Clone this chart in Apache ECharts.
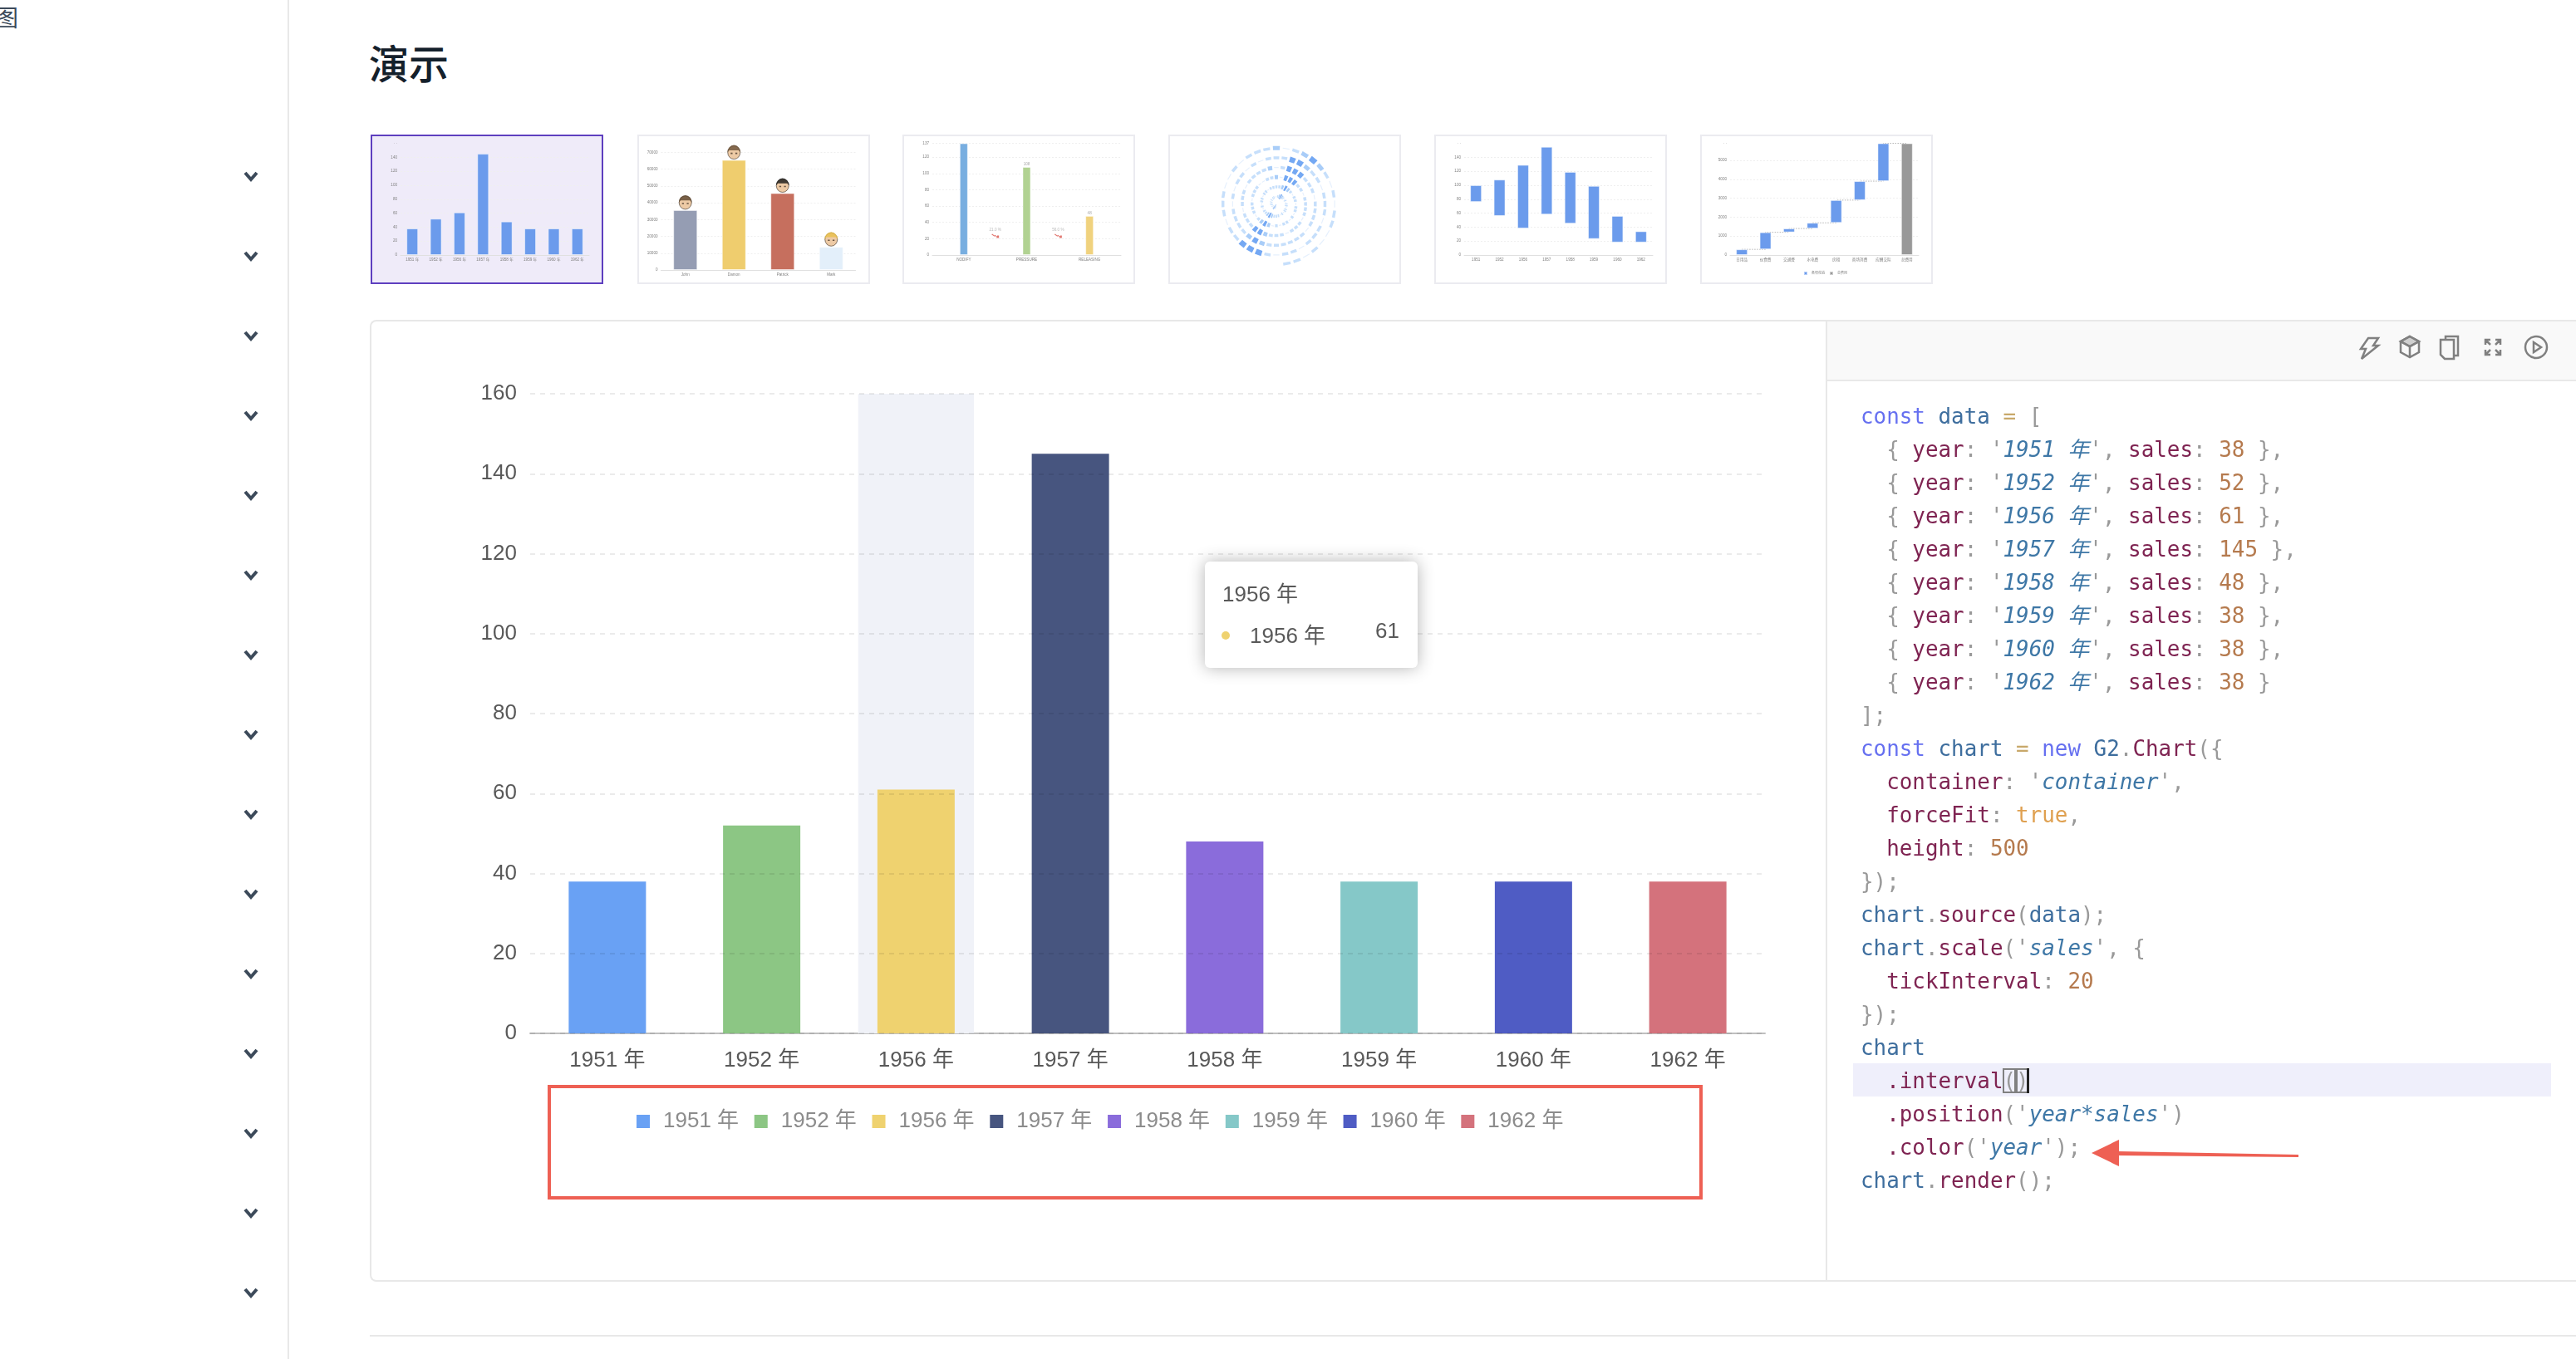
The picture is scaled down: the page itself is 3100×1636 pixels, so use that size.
<!DOCTYPE html>
<html>
<head>
<meta charset="utf-8">
<title>演示</title>
<script src="https://cdn.jsdelivr.net/npm/echarts@6/dist/echarts.min.js"></script>
<style>
  html, body { margin: 0; padding: 0; background: #fff; width: 3100px; height: 1636px; overflow: hidden; }
  body { position: relative; font-family: "Liberation Sans", "Noto Sans CJK SC", sans-serif; }
  .abs { position: absolute; }
  #sideLine { left: 346px; top: 0; width: 2px; height: 1636px; background: #e8e8e8; }
  #sideTitle { left: -6px; top: 0; font: 28px/40px "Noto Sans CJK SC"; color: #3c4a5a; }
  #pageTitle { left: 444px; top: 42px; font: 500 48px/64px "Noto Sans CJK SC"; color: #14202b; }
  .thumb { position: absolute; top: 162px; width: 276px; height: 176px; border: 2px solid #ebebf0; }
  .thumb.active { border-color: #5e3fbf; background: #efebf9; }
  #panel { left: 445px; top: 385px; width: 2655px; height: 1158px; border: 2px solid #e8e8e8; border-right: 0; border-radius: 8px 0 0 8px; box-sizing: border-box; }
  #main { left: 446px; top: 386px; width: 1750px; height: 1154px; }
  #codeHead { left: 2198px; top: 387px; width: 902px; height: 70px; background: #f9f9f9; border-bottom: 2px solid #e8e8e8; }
  #codeLine { left: 2197px; top: 385px; width: 2px; height: 1158px; background: #e8e8e8; }
  #curLine { left: 2230px; top: 1280px; width: 840px; height: 40px; background: #efeffb; }
  #code { left: 2239px; top: 481px; margin: 0; font: 25.9px/40px "DejaVu Sans Mono", "Noto Sans CJK SC", monospace; color: #999; white-space: pre; }
  #code i { font-style: italic; color: #3e77a6; }
  #code .k { color: #6670f0; }
  #code .v { color: #3e6e9e; }
  #code .p { color: #7f2452; }
  #code .n { color: #b57a4e; }
  #code .t { color: #dfa050; }
  #code .e { color: #c8a86a; }
  #code .br { box-shadow: inset 0 0 0 2px #808080; }
  #code .cur { border-left: 3px solid #222; margin-left: -3px; }
  #redBox { left: 659px; top: 1306px; width: 1390px; height: 138px; border: 4px solid #ee6054; box-sizing: border-box; }
  #bottomLine { left: 445px; top: 1607px; width: 2655px; height: 2px; background: #e8e8e8; }
  svg { position: absolute; overflow: visible; }
</style>
</head>
<body>
<div class="abs" id="sideLine"></div>
<div class="abs" id="sideTitle">图</div>
<div class="abs" id="pageTitle">演示</div>
<svg id="chevrons" style="left:0;top:0" width="347" height="1636"></svg>

<div class="thumb active" id="thumb1" style="left:446px"></div>
<div class="thumb" id="thumb2" style="left:767px"></div>
<div class="thumb" id="thumb3" style="left:1086px"></div>
<div class="thumb" id="thumb4" style="left:1406px"></div>
<div class="thumb" id="thumb5" style="left:1726px"></div>
<div class="thumb" id="thumb6" style="left:2046px"></div>

<div class="abs" id="panel"></div>
<div class="abs" id="main"></div>
<div class="abs" id="codeHead"></div>
<div class="abs" id="codeLine"></div>
<svg style="left:0;top:0" width="3100" height="1636" fill="none" stroke="#808080" stroke-width="2.5">
  <path d="M2850 407 h12 l-6 9 h6 l-20 16 l5 -12 h-6 z"/>
  <path d="M2900 405 l11 6 v13 l-11 6 l-11 -6 v-13 z M2889 411 l11 6 l11 -6 M2900 417 v13"/>
  <path d="M2900 405 l11 6 l-11 6 l-11 -6 z" fill="#808080" fill-opacity="0.35"/>
  <path d="M2943 409 v-4 h15 v23 h-5 M2937 409 h16 v23 h-11 l-5 -5 z"/>
  <path d="M2991 409 l6 6 M2991 415 v-6 h6 M3009 409 l-6 6 M3003 409 h6 v6 M2991 427 l6 -6 M2991 421 v6 h6 M3009 427 l-6 -6 M3003 427 h6 v-6"/>
  <circle cx="3052" cy="418" r="13"/>
  <path d="M3049 412 l9 6 l-9 6 z"/>
</svg>
<div class="abs" id="curLine"></div>
<pre class="abs" id="code"><span class="k">const</span> <span class="v">data</span> <span class="e">=</span> [
  { <span class="p">year</span>: '<i>1951 年</i>', <span class="p">sales</span>: <span class="n">38</span> },
  { <span class="p">year</span>: '<i>1952 年</i>', <span class="p">sales</span>: <span class="n">52</span> },
  { <span class="p">year</span>: '<i>1956 年</i>', <span class="p">sales</span>: <span class="n">61</span> },
  { <span class="p">year</span>: '<i>1957 年</i>', <span class="p">sales</span>: <span class="n">145</span> },
  { <span class="p">year</span>: '<i>1958 年</i>', <span class="p">sales</span>: <span class="n">48</span> },
  { <span class="p">year</span>: '<i>1959 年</i>', <span class="p">sales</span>: <span class="n">38</span> },
  { <span class="p">year</span>: '<i>1960 年</i>', <span class="p">sales</span>: <span class="n">38</span> },
  { <span class="p">year</span>: '<i>1962 年</i>', <span class="p">sales</span>: <span class="n">38</span> }
];
<span class="k">const</span> <span class="v">chart</span> <span class="e">=</span> <span class="k">new</span> <span class="v">G2</span>.<span class="p">Chart</span>({
  <span class="p">container</span>: '<i>container</i>',
  <span class="p">forceFit</span>: <span class="t">true</span>,
  <span class="p">height</span>: <span class="n">500</span>
});
<span class="v">chart</span>.<span class="p">source</span>(<span class="v">data</span>);
<span class="v">chart</span>.<span class="p">scale</span>('<i>sales</i>', {
  <span class="p">tickInterval</span>: <span class="n">20</span>
});
<span class="v">chart</span>
  <span class="p">.interval</span><span class="br">(</span><span class="br">)</span><span class="cur"></span>
  <span class="p">.position</span>('<i>year*sales</i>')
  <span class="p">.color</span>('<i>year</i>');
<span class="v">chart</span>.<span class="p">render</span>();</pre>
<div class="abs" id="redBox"></div>
<svg style="left:0;top:0" width="3100" height="1636">
  <path d="M2550 1372 L2517 1388 L2550 1404 L2550 1391 L2766 1393 L2766 1390 L2550 1386 Z" fill="#ee6054"/>
</svg>
<div class="abs" id="bottomLine"></div>

<script>
const years = ['1951 年', '1952 年', '1956 年', '1957 年', '1958 年', '1959 年', '1960 年', '1962 年'];
const sales = [38, 52, 61, 145, 48, 38, 38, 38];
const barColors = ['#69a1f4', '#8cc684', '#efd26f', '#47557f', '#8a6cdb', '#85c8c8', '#4f5cc4', '#d4727c'];
const hoverIndex = 2;

const yMax = 160;
const yStep = 20;

// thumbnails
const faceNames = ['John', 'Damon', 'Patrick', 'Mark'];
const faceValues = [35600, 65400, 45700, 13700];
const faceColors = ['#959db3', '#efcd6e', '#c66f5e', '#e3effa'];
const hairColors = ['#5c4630', '#6b5238', '#161616', '#eac04a'];

const stepNames = ['NODIFY', 'PRESSURE', 'RELEASING'];
const stepValues = [137, 108, 48];
const stepColors = ['#78aee0', '#b1d292', '#f0d27e'];
const stepRates = [[1, 23.4, '21.0 %'], [2, 23.4, '56.0 %']];

// one row per turn of the spiral, inner to outer. 0 faint, 1 pale, 2 strong, 3 dark
const spiralRows = [
  [0, 1, 2, 3, 2, 0, 1, 0, 1, 1, 0, 1, 0, 1, 0, 1, 1, 0, 0, 1, 2, 3, 2, 1, 0, 1, 0, 1, 1, 0, 1, 1, 0, 1, 0, 1],
  [1, 1, 2, 3, 2, 1, 1, 0, 1, 0, 1, 1, 0, 1, 1, 0, 1, 1, 1, 1, 2, 3, 2, 1, 0, 1, 1, 0, 1, 1, 0, 1, 0, 1, 1, 0],
  [1, 0, 2, 3, 2, 1, 0, 1, 1, 1, 0, 1, 1, 1, 0, 0, 1, 1, 2, 0, 3, 3, 3, 1, 1, 0, 1, 1, 1, 1, 0, 1, 1, 1, 0, 1],
  [1, 1, 2, 3, 3, 1, 1, 1, 0, 1, 1, 1, 0, 1, 1, 1, 1, 2, 0, 1, 3, 3, 3, 1, 1, 1, 0, 1, 1, 1, 1, 0, 1, 1, 1, 1],
  [1, 1, 2, 3, 2, 1, 1, 1, 1, 0, 1, 0, 1, 1, 0, 1, 0, 1, 1, 1, 3, 3, 2, 1, 1, 0, 1, 1, 1, 0, 1, 1, 1, 0, 1, 1],
  [0, 1, 3, 3, 3, 1, 1, 0, 1, 1, 1, 0, 0, 1, 0, 1, 1, 1, 2, 0, 1, 2, 3, 2, 1, 0, 1, 0, 1, 1, 0, 0, 1, 0, 1, 1]
];
const spiralLevelSizes = [1.2, 3.5, 5, 6.5];
const spiralLevelColors = ['#e6f0fd', '#c6dffb', '#a9cdf8', '#74a8f3'];

const rangeNames = ['1951', '1952', '1956', '1957', '1958', '1959', '1960', '1962'];
const rangeLow = [76, 56, 38, 58, 45, 23, 18, 18];
const rangeHigh = [100, 108, 129, 155, 119, 99, 56, 34];

const fallNames = ['日用品', '伙食费', '交通费', '水电费', '房租', '商场消费', '应酬交际', '总费用'];
const fallLow = [0, 300, 1200, 1400, 1700, 2900, 3900];
const fallHigh = [300, 1200, 1400, 1700, 2900, 3900, 5900];
const fallTotal = 5900;

const chevronSvg = document.getElementById('chevrons');
let chevronHtml = '';
for (let i = 0; i < 15; i++) {
  const y = 212 + i * 96;
  chevronHtml += `<path d="M295 ${y - 4} L302 ${y + 4} L309 ${y - 4}" fill="none" stroke="#3c4a5a" stroke-width="4"/>`;
}
chevronSvg.innerHTML = chevronHtml;

const fontName = '"Liberation Sans", "Noto Sans CJK SC", sans-serif';

const bandSeries = {
  type: 'custom',
  silent: true,
  z: 1,
  tooltip: { show: false },
  data: [[hoverIndex, yMax]],
  encode: { x: 0, y: 1 },
  renderItem: function (params, api) {
    const top = api.coord([api.value(0), api.value(1)]);
    const bottom = api.coord([api.value(0), 0]);
    const w = api.size([1, 0])[0] * 0.75;
    return {
      type: 'rect',
      shape: { x: top[0] - w / 2, y: top[1], width: w, height: bottom[1] - top[1] },
      style: { fill: '#f0f2f8' }
    };
  }
};

const barSeries = years.map(function (name, i) {
  return {
    type: 'bar',
    name: name,
    stack: 'year',
    barWidth: 93,
    z: 2,
    itemStyle: { color: barColors[i] },
    data: sales.map(function (v, j) { return j === i ? v : null; })
  };
});

const main = echarts.init(document.getElementById('main'));
main.setOption({
  animation: false,
  textStyle: { fontFamily: fontName },
  grid: { left: 192, top: 88, width: 1486, height: 770 },
  legend: {
    left: 315,
    top: 946,
    itemWidth: 16,
    itemHeight: 16,
    itemGap: 18.7,
    icon: 'rect',
    data: years,
    textStyle: { fontSize: 26, color: '#8c8c8c', fontFamily: fontName, padding: [0, 0, 0, 11] }
  },
  tooltip: {
    trigger: 'item',
    alwaysShowContent: true,
    transitionDuration: 0,
    position: [1004, 290],
    padding: 0,
    borderWidth: 0,
    backgroundColor: '#fff',
    extraCssText: 'border-radius:6px;box-shadow:0 0 20px rgba(0,0,0,.3);',
    formatter: function (p) {
      return '<div style="width:256px;height:128px;position:relative;font:26px ' + "'Liberation Sans','Noto Sans CJK SC'" + ';color:#595959">' +
        '<div style="position:absolute;left:21px;top:18px">' + p.name + '</div>' +
        '<div style="position:absolute;left:20px;top:84px;width:10px;height:10px;border-radius:50%;background:' + p.color + '"></div>' +
        '<div style="position:absolute;left:54px;top:68px">' + p.seriesName + '</div>' +
        '<div style="position:absolute;right:22px;top:68px">' + p.value + '</div></div>';
    }
  },
  xAxis: {
    type: 'category',
    data: years,
    axisLine: { lineStyle: { color: '#bfbfbf', width: 2 } },
    axisTick: { alignWithLabel: true, length: 8, lineStyle: { color: '#bfbfbf', width: 1 } },
    axisLabel: { margin: 20, fontSize: 26, color: '#595959', fontFamily: fontName }
  },
  yAxis: {
    type: 'value',
    min: 0,
    max: yMax,
    interval: yStep,
    z: 3,
    axisLine: { show: false },
    axisTick: { show: false },
    axisLabel: { margin: 16, fontSize: 26, color: '#595959', fontFamily: fontName },
    splitLine: { lineStyle: { color: 'rgba(0,0,0,0.08)', width: 2, type: [6, 6] } }
  },
  series: [bandSeries].concat(barSeries)
});
main.dispatchAction({ type: 'showTip', seriesIndex: hoverIndex + 1, dataIndex: hoverIndex });

// small shared axis setup for the preview cards
function thumbX(names) {
  return {
    type: 'category',
    data: names,
    axisLine: { lineStyle: { color: '#e0e0e0', width: 1 } },
    axisTick: { show: false },
    axisLabel: { fontSize: 4.6, color: '#808080', margin: 3, fontFamily: fontName, interval: 0 }
  };
}
function thumbY(max, step, clipTop) {
  return {
    type: 'value',
    min: 0,
    max: max,
    interval: step,
    axisLine: { show: false },
    axisTick: { show: false },
    axisLabel: {
      fontSize: 4.6,
      color: '#808080',
      margin: 4,
      fontFamily: fontName,
      showMaxLabel: true,
      formatter: function (v) { return clipTop && v === max ? '· ·' : v; }
    },
    splitLine: { showMaxLine: !clipTop, lineStyle: { color: '#efefef', width: 1, type: [2, 2] } }
  };
}
function initThumb(id, option) {
  const c = echarts.init(document.getElementById(id));
  option.animation = false;
  c.setOption(option);
}
const thumbGrid = { left: 34, right: 15, top: 8.5, bottom: 33 };
const barEdge = { borderColor: 'rgba(255,255,255,0.5)', borderWidth: 1 };

initThumb('thumb1', {
  grid: thumbGrid,
  xAxis: thumbX(years),
  yAxis: thumbY(yMax, yStep, true),
  series: [{ type: 'bar', data: sales, barWidth: 14, itemStyle: Object.assign({ color: '#6b9bec' }, barEdge) }]
});

initThumb('thumb2', {
  grid: { left: 26.5, right: 15.5, top: 19.3, bottom: 15 },
  xAxis: thumbX(faceNames),
  yAxis: thumbY(70000, 10000, false),
  series: [
    {
      type: 'bar',
      barWidth: 29,
      data: faceValues.map(function (v, i) { return { value: v, itemStyle: Object.assign({ color: faceColors[i] }, barEdge) }; })
    },
    {
      type: 'scatter',
      symbol: 'circle',
      symbolSize: [15, 16],
      symbolOffset: [0, -9],
      z: 3,
      itemStyle: { color: '#e9bd8e', borderColor: '#2b2118', borderWidth: 0.7 },
      data: faceValues
    },
    {
      type: 'scatter',
      symbol: 'path://M0 10 A10 10 0 0 1 20 10 L17 7 L3 7 Z',
      symbolKeepAspect: false,
      symbolSize: [16, 9],
      symbolOffset: [0, -13.5],
      z: 4,
      data: faceValues.map(function (v, i) { return { value: v, itemStyle: { color: hairColors[i] } }; })
    },
    {
      type: 'scatter',
      symbol: 'path://M0 0 H4 V3 H0 Z M10 0 H14 V3 H10 Z',
      symbolSize: [8, 1.6],
      symbolOffset: [0, -8],
      z: 5,
      itemStyle: { color: '#4a3a2c' },
      data: faceValues
    }
  ]
});

initThumb('thumb3', {
  grid: thumbGrid,
  xAxis: [thumbX(stepNames), { type: 'value', min: 0, max: 3, show: false }],
  yAxis: thumbY(137, 20, false),
  series: [
    {
      type: 'bar',
      barWidth: 10,
      data: stepValues.map(function (v, i) { return { value: v, itemStyle: Object.assign({ color: stepColors[i] }, barEdge) }; }),
      label: { show: true, position: 'top', fontSize: 4.6, color: '#aaaaaa', distance: 1, formatter: function (p) { return p.dataIndex === 0 ? '' : p.value; } }
    },
    {
      type: 'scatter',
      xAxisIndex: 1,
      symbol: 'path://M0 1 L2 0 L7 3 L9 2 L13 5 L14 3 L18 3 L18 8 L13 8 L13 7 L9 4 L7 5 Z',
      symbolSize: [9, 5],
      itemStyle: { color: '#d9534a' },
      data: stepRates,
      label: { show: true, position: 'top', fontSize: 4.6, color: '#aaaaaa', distance: 2, formatter: function (p) { return p.value[2]; } }
    }
  ]
});

// the spiral: each turn adds a fixed pitch, each dash sits 10 degrees after the last
const spiralPitch = 11.7;
const spiralInner = 3;
const spiralData = [];
spiralRows.forEach(function (row, turn) {
  row.forEach(function (level, j) {
    spiralData.push([spiralInner + (turn + j / row.length) * spiralPitch, (180 + j * 360 / row.length) % 360, level]);
  });
});
initThumb('thumb4', {
  polar: { center: [128, 81.5], radius: 80 },
  angleAxis: { type: 'value', min: 0, max: 360, startAngle: 90, clockwise: true, show: false },
  radiusAxis: { type: 'value', min: 0, max: 80, show: false },
  series: [{
    type: 'custom',
    coordinateSystem: 'polar',
    silent: true,
    data: spiralData,
    encode: { radius: 0, angle: 1 },
    renderItem: function (params, api) {
      const r = api.value(0);
      const a = api.value(1);
      const level = api.value(2);
      const half = spiralLevelSizes[level] / 2;
      const da = 3.5;
      return {
        type: 'polygon',
        shape: { points: [
          api.coord([r - half, a - da]),
          api.coord([r + half, a - da]),
          api.coord([r + half, a + da]),
          api.coord([r - half, a + da])
        ] },
        style: { fill: spiralLevelColors[level] }
      };
    }
  }]
});

initThumb('thumb5', {
  grid: thumbGrid,
  xAxis: thumbX(rangeNames),
  yAxis: thumbY(yMax, yStep, true),
  series: [
    { type: 'bar', stack: 'r', barWidth: 14, itemStyle: { color: 'transparent' }, data: rangeLow },
    { type: 'bar', stack: 'r', barWidth: 14, itemStyle: Object.assign({ color: '#6b9bec' }, barEdge), data: rangeHigh.map(function (v, i) { return v - rangeLow[i]; }) }
  ]
});

initThumb('thumb6', {
  grid: thumbGrid,
  legend: {
    left: 117,
    top: 157,
    itemWidth: 4,
    itemHeight: 4,
    itemGap: 5,
    icon: 'rect',
    textStyle: { fontSize: 4, color: '#808080', fontFamily: fontName },
    data: ['各项花销', '总费用']
  },
  xAxis: thumbX(fallNames),
  yAxis: thumbY(fallTotal, 1000, true),
  series: [
    { type: 'line', step: 'end', showSymbol: false, silent: true, z: 1, lineStyle: { color: '#b5b5b5', width: 1, type: [1.5, 1.5] }, data: fallHigh.concat([fallTotal]) },
    { type: 'bar', stack: 'w', barWidth: 14, z: 2, itemStyle: { color: 'transparent' }, data: fallLow },
    { type: 'bar', stack: 'w', name: '各项花销', barWidth: 14, z: 2, itemStyle: Object.assign({ color: '#6b9bec' }, barEdge), data: fallHigh.map(function (v, i) { return v - fallLow[i]; }) },
    { type: 'bar', stack: 'w', name: '总费用', barWidth: 14, z: 2, itemStyle: Object.assign({ color: '#999999' }, barEdge), data: fallHigh.map(function () { return null; }).concat([fallTotal]) }
  ]
});
</script>
</body>
</html>
